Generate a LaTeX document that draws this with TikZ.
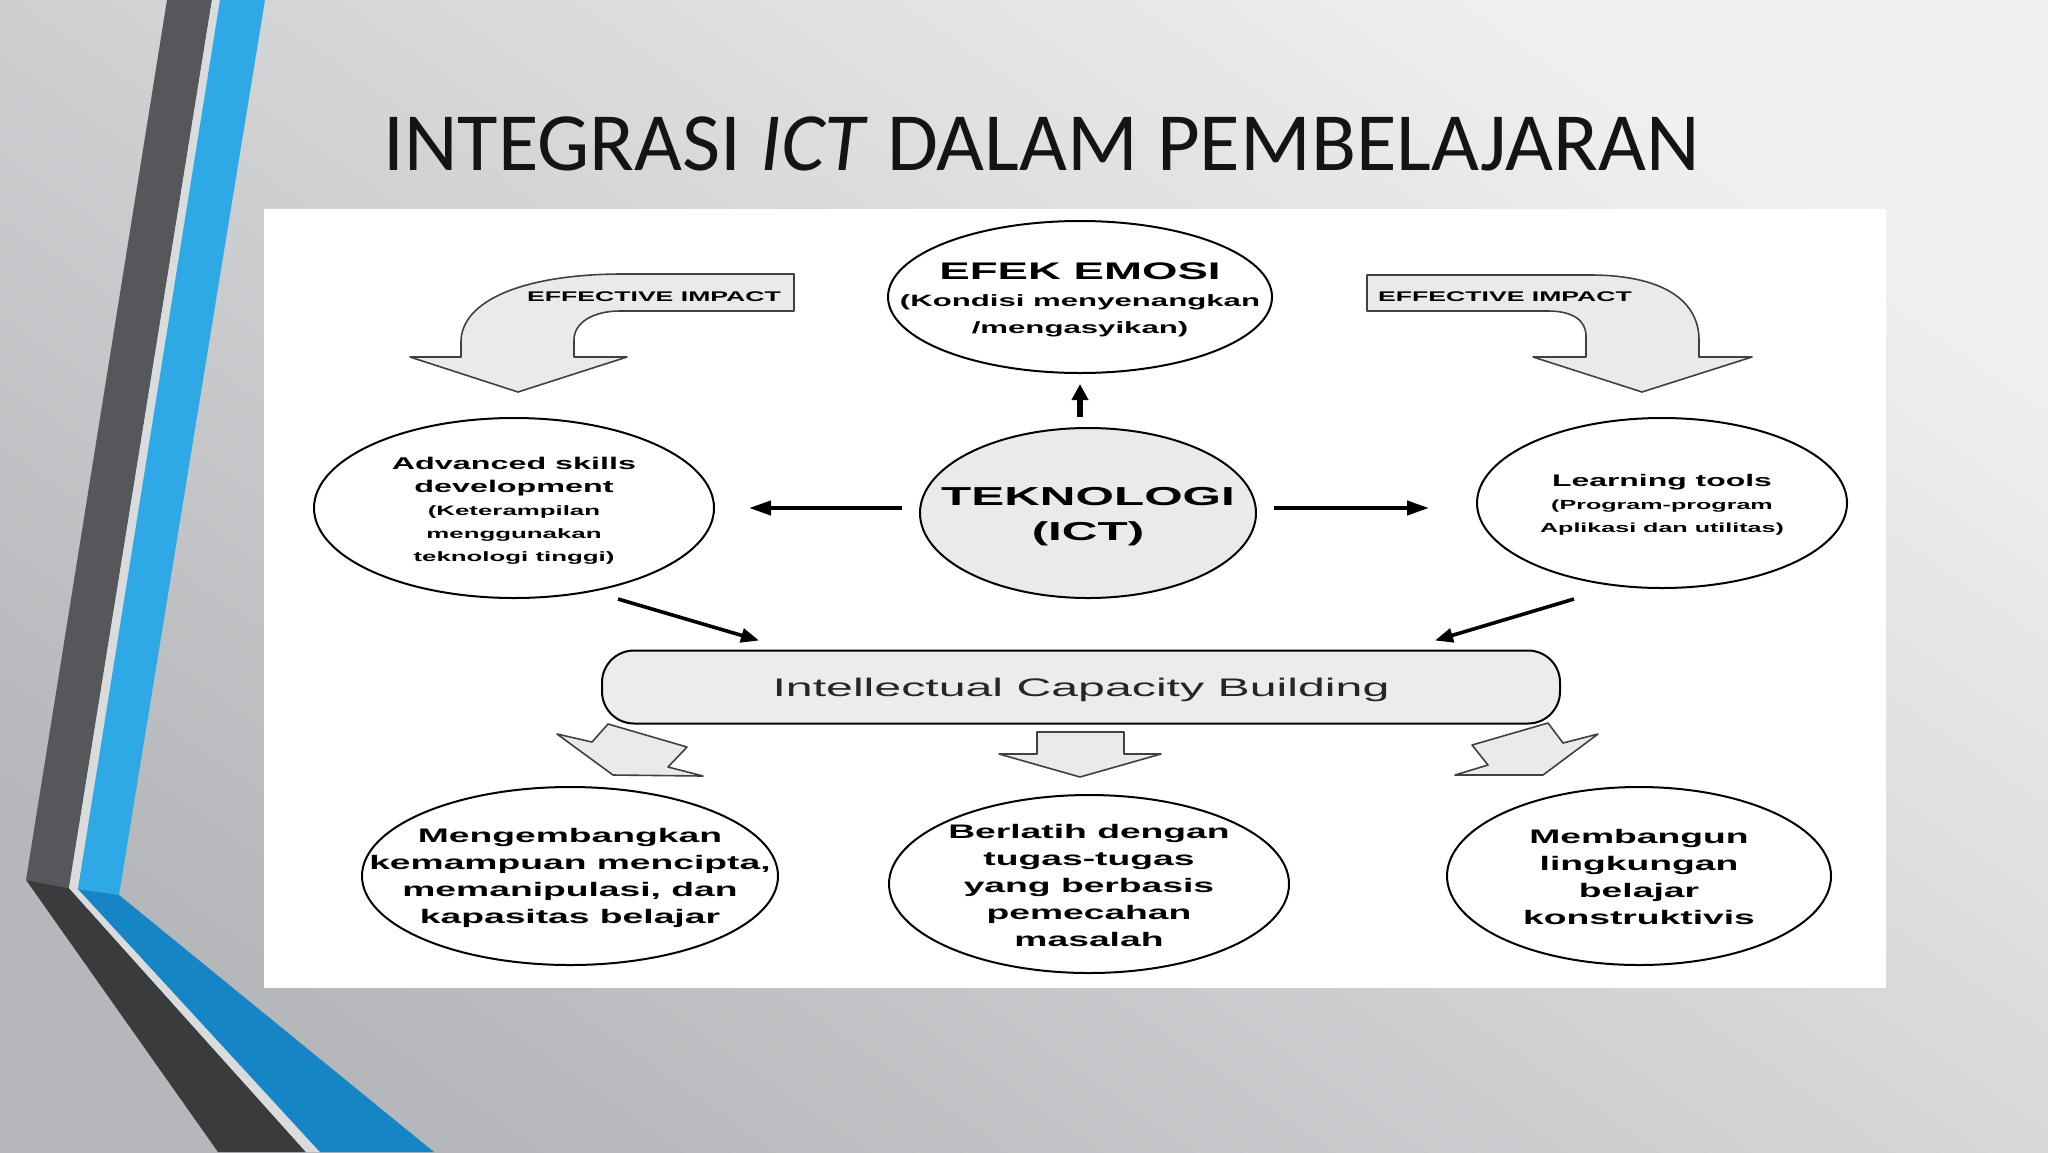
\documentclass[tikz,border=0pt]{standalone}
\usepackage{fontspec}
\setmainfont{Carlito}
\newfontfamily\diagfont[FakeStretch=1.9]{Liberation Sans}
\usetikzlibrary{shapes.geometric,arrows.meta}

\definecolor{bglight}{HTML}{EEF0F1}
\definecolor{bgdark}{HTML}{B5B7BA}
\definecolor{stripedark}{HTML}{56575A}
\definecolor{stripedarker}{HTML}{3A3B3D}
\definecolor{stripegap}{HTML}{D9DBDD}
\definecolor{stripeblue}{HTML}{2EA9E6}
\definecolor{stripebluedark}{HTML}{1585C5}
\definecolor{boxgray}{HTML}{EAEAEA}

\begin{document}
\begin{tikzpicture}[x=0.5pt, y=-0.5pt]
  \tikzstyle{ellip}=[ellipse, draw, line width=1pt, fill=white, inner sep=0pt]
  \tikzstyle{txt}=[align=center, inner sep=0pt, text=black]
  \tikzstyle{blockarrow}=[draw=black!75, line width=0.8pt, fill=boxgray, line join=round]
  \tikzstyle{conn}=[-{Triangle[length=11pt,width=7pt]}, line width=2pt]
  \tikzstyle{conndiag}=[-{Triangle[length=9pt,width=7pt]}, line width=1.8pt]

  % slide background and side stripes
  \useasboundingbox (0,0) rectangle (2048,1152);
  \shade[top color=bglight, bottom color=bgdark, shading angle=-35] (0,0) rectangle (2048,1152);
  \fill[stripedark] (167,0) -- (212,0) -- (69,888) -- (26,880) -- cycle;
  \fill[stripedarker] (26,880) -- (69,888) -- (306,1152) -- (218,1152) -- cycle;
  \fill[stripegap] (212,0) -- (220,0) -- (78,889) -- (69,888) -- cycle;
  \fill[stripegap] (69,888) -- (78,889) -- (320,1152) -- (306,1152) -- cycle;
  \fill[stripeblue] (220,0) -- (265,0) -- (119,895) -- (78,889) -- cycle;
  \fill[stripebluedark] (78,889) -- (119,895) -- (434,1152) -- (320,1152) -- cycle;

  \node[anchor=base west, inner sep=0pt, text=black!92, font=\fontsize{41.4}{41}\selectfont] (title) at (383,170)
    {INTEGRASI \textit{ICT} DALAM PEMBELAJARAN};

  \fill[white] (264,209) rectangle (1886,988);

  % effective impact arrows
  \filldraw[blockarrow] (794,274) -- (623,274) .. controls (525,274) and (461,300) .. (461,342) -- (461,357)
    -- (410,357) -- (518,392) -- (627,357) -- (574,357) -- (574,340)
    .. controls (574,322) and (594,311) .. (620,311) -- (794,311) -- cycle;
  \filldraw[blockarrow] (1367,275) -- (1590,275) .. controls (1662,275) and (1699,300) .. (1699,340) -- (1699,357)
    -- (1752,357) -- (1642,392) -- (1533,357) -- (1586,357) -- (1586,336)
    .. controls (1586,320) and (1572,311) .. (1548,311) -- (1367,311) -- cycle;
  \node[txt, font=\diagfont\bfseries\fontsize{7}{8}\selectfont] (ei1) at (654,297) {EFFECTIVE IMPACT};
  \node[txt, font=\diagfont\bfseries\fontsize{7}{8}\selectfont] (ei2) at (1505,297) {EFFECTIVE IMPACT};

  % ellipses
  \node[ellip, fill=boxgray, minimum width=168pt, minimum height=85pt] (0) at (1088,513) {};
  \node[ellip, minimum width=192pt, minimum height=76pt] (1) at (1080,297) {};
  \node[ellip, minimum width=200pt, minimum height=90pt] (2) at (514,508) {};
  \node[ellip, minimum width=185pt, minimum height=85pt] (3) at (1662,503) {};
  \node[rectangle, rounded corners=16pt, draw, line width=1pt, fill=boxgray!90!white,
        minimum width=479pt, minimum height=36.5pt, inner sep=0pt, text height=9pt, text depth=0pt,
        text=black!85, font=\diagfont\fontsize{12.7}{14}\selectfont] (4) at (1081,687)
        {Intellectual Capacity Building};
  \node[ellip, minimum width=208pt, minimum height=89pt] (5) at (570,876) {};
  \node[ellip, minimum width=200pt, minimum height=89pt] (6) at (1089,884) {};
  \node[ellip, minimum width=192pt, minimum height=89pt] (7) at (1639,876) {};

  \node[txt, font=\diagfont\bfseries\fontsize{13}{17.5}\selectfont] (0t) at (1088,517) {TEKNOLOGI\\(ICT)};
  \node[txt, font=\diagfont\bfseries\fontsize{8.2}{13.4}\selectfont] (1t) at (1080,300)
    {{\fontsize{12}{12}\selectfont EFEK EMOSI}\\(Kondisi menyenangkan\\/mengasyikan)};
  \node[txt, font=\diagfont\bfseries\fontsize{6.8}{11.5}\selectfont] (2t) at (514,511)
    {{\fontsize{8.5}{8.5}\selectfont Advanced skills}\\{\fontsize{8.5}{8.5}\selectfont development}\\(Keterampilan\\menggunakan\\teknologi tinggi)};
  \node[txt, font=\diagfont\bfseries\fontsize{6.6}{11.5}\selectfont] (3t) at (1662,505)
    {{\fontsize{8.4}{8.4}\selectfont Learning tools}\\(Program-program\\Aplikasi dan utilitas)};
  \node[txt, font=\diagfont\bfseries\fontsize{9.8}{13.6}\selectfont] (5t) at (570,878)
    {Mengembangkan\\kemampuan mencipta,\\memanipulasi, dan\\kapasitas belajar};
  \node[txt, font=\diagfont\bfseries\fontsize{9.8}{13.5}\selectfont] (6t) at (1089,885)
    {Berlatih dengan\\tugas-tugas\\yang berbasis\\pemecahan\\masalah};
  \node[txt, font=\diagfont\bfseries\fontsize{9.8}{13.4}\selectfont] (7t) at (1639,877)
    {Membangun\\lingkungan\\belajar\\konstruktivis};

  % connectors
  \draw[conn, line width=2.6pt, -{Triangle[length=8pt,width=8pt]}, shorten <=5pt, shorten >=5pt] (0.north -| 1.south) -- (1.south);
  \draw[conn, shorten <=8.5pt, shorten >=17pt] (2.east -| 0.west) -- (2.east);
  \draw[conn, shorten <=8.5pt, shorten >=23.5pt] (0.east |- 2.east) -- (3.west |- 2.east);
  \draw[conndiag] ([xshift=52pt]2.south) -- ([xshift=79pt,yshift=4.5pt]4.north west);
  \draw[conndiag] ([xshift=-44pt,yshift=-5pt]3.south) -- ([xshift=-63pt,yshift=4.5pt]4.north east);

  % block arrows below the capacity box
  \filldraw[blockarrow] (557,734) -- (592,742) -- (608,724) -- (687,747) -- (668,767) -- (703,776) -- (613,775) -- cycle;
  \filldraw[blockarrow] (1037,732) -- (1124,732) -- (1124,754) -- (1161,754) -- (1080,777) -- (999,754) -- (1037,754) -- cycle;
  \filldraw[blockarrow] (1598,734) -- (1563,743) -- (1548,723) -- (1472,745) -- (1488,765) -- (1455,775) -- (1543,775) -- cycle;
\end{tikzpicture}
\end{document}
